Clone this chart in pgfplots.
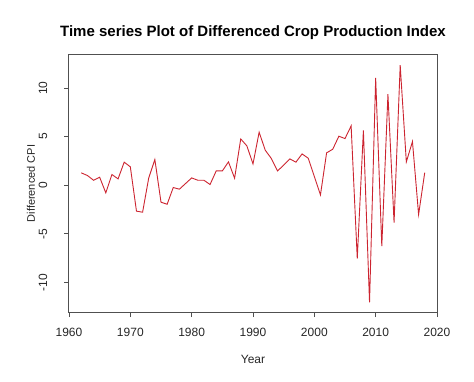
\documentclass[border=0pt]{standalone}
\usepackage{pgfplots}
\pgfplotsset{compat=1.18}
\usepackage{fontspec}
\setmainfont{Liberation Sans}
\definecolor{boxgray}{RGB}{80,80,80}
\definecolor{linered}{RGB}{204,36,48}
\begin{document}
\begin{tikzpicture}
\path[use as bounding box] (-69pt,-69pt) rectangle (405pt,312pt);
\begin{axis}[
  at={(0,0)}, anchor=south west,
  scale only axis, width=368pt, height=257pt,
  xmin=1960, xmax=2020, ymin=-13.05, ymax=13.4,
  axis lines=box,
  axis line style={boxgray, line width=1pt},
  every tick/.style={boxgray, line width=0.8pt},
  tick align=outside, major tick length=5pt,
  xtick={1960,1970,1980,1990,2000,2010,2020},
  xticklabels={1960,1970,1980,1990,2000,2010,2020},
  ytick={-10,-5,0,5,10},
  yticklabels={-10,-5,0,5,10},
  xtick pos=left, ytick pos=left,
  ticklabel style={font=\fontsize{12}{14}\selectfont, text=black!85},
  xticklabel style={anchor=center, yshift=-15pt},
  yticklabel style={rotate=90, anchor=center, yshift=21pt},
  xlabel={Year}, ylabel={Differenced CPI},
  xlabel style={font=\fontsize{12}{14}\selectfont, text=black!85, at={([yshift=-47pt]axis description cs:0.5,0)}, anchor=center},
  ylabel style={font=\fontsize{11}{13}\selectfont, text=black!85, at={([xshift=-38pt]axis description cs:0,0.5)}, anchor=center},
  title={Time series Plot of Differenced Crop Production Index},
  title style={font=\bfseries\fontsize{15}{18}\selectfont, at={([yshift=16pt]axis description cs:0.5,1)}, anchor=center},
]
\addplot[color=linered, line width=0.9pt, mark=none] coordinates {
(1962,1.27) (1963,1.0) (1964,0.51) (1965,0.82) (1966,-0.79) (1967,1.1)
(1968,0.65) (1969,2.37) (1970,1.89) (1971,-2.67) (1972,-2.78) (1973,0.75)
(1974,2.64) (1975,-1.75) (1976,-1.96) (1977,-0.24) (1978,-0.41) (1979,0.17)
(1980,0.75) (1981,0.51) (1982,0.51) (1983,0.07) (1984,1.47) (1985,1.47)
(1986,2.4) (1987,0.72) (1988,4.76) (1989,4.05) (1990,2.19) (1991,5.45)
(1992,3.6) (1993,2.74) (1994,1.47) (1995,2.06) (1996,2.71) (1997,2.37)
(1998,3.22) (1999,2.78) (2000,0.9) (2001,-1.0) (2002,3.33) (2003,3.7)
(2004,5.04) (2005,4.8) (2006,6.1) (2007,-7.55) (2008,5.63) (2009,-12.07)
(2010,11.04) (2011,-6.28) (2012,9.36) (2013,-3.84) (2014,12.35) (2015,2.4)
(2016,4.49) (2017,-3.02) (2018,1.3)
};
\end{axis}
\end{tikzpicture}
\end{document}
